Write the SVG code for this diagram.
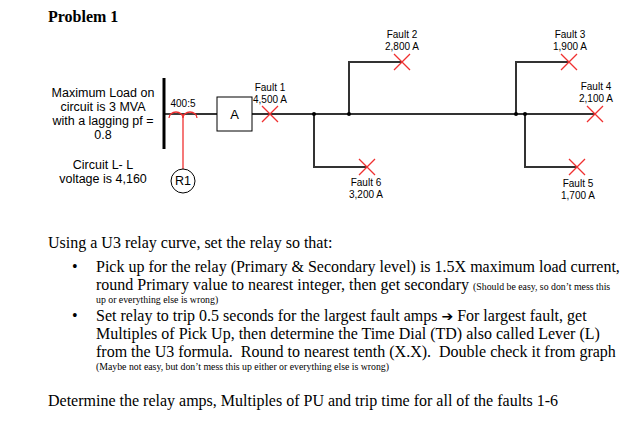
<svg xmlns="http://www.w3.org/2000/svg" width="641" height="439" viewBox="0 0 641 439">
<style>
.s{font-family:"Liberation Sans",Arial,sans-serif;font-size:10px;fill:#000;text-anchor:middle}
.l{font-family:"Liberation Sans",Arial,sans-serif;font-size:12.5px;fill:#000;text-anchor:middle}
.t{font-family:"Liberation Serif","Times New Roman",serif;font-size:16px;fill:#000;white-space:pre}
.sm{font-family:"Liberation Serif","Times New Roman",serif;font-size:9.8px;fill:#000}
.w{stroke:#333;stroke-width:2;fill:none}
.x{stroke:#f03030;stroke-width:1.3}
.d{fill:#000}
</style>
<rect width="641" height="439" fill="#fff"/>
<text x="48" y="22" style="font-family:'Liberation Serif',serif;font-size:16px;font-weight:bold">Problem 1</text>
<g id="notes">
<text class="l" x="103" y="97">Maximum Load on</text>
<text class="l" x="103" y="111">circuit is 3 MVA</text>
<text class="l" x="103" y="125">with a lagging pf =</text>
<text class="l" x="103" y="139">0.8</text>
<text class="l" x="103" y="169">Circuit L- L</text>
<text class="l" x="103" y="183">voltage is 4,160</text>
</g>
<g id="connectors">
<path class="w" d="M194 114H217M252 114H595"/>
<path class="w" d="M314 114V167H367M349 114V62H402M516 114V62H569M525 114V167H577"/>
<circle class="d" cx="314" cy="114" r="2"/><circle class="d" cx="349" cy="114" r="2"/>
<circle class="d" cx="516" cy="114" r="2"/><circle class="d" cx="525" cy="114" r="2"/>
<path d="M165 114H194" stroke="#000" stroke-width="1.5"/>
</g>
<g id="bus"><line x1="164" y1="78" x2="164" y2="149" stroke="#000" stroke-width="3"/></g>
<g id="ct">
<path d="M169 118a7 6 0 0 1 14 0a7 6 0 0 1 14 0" fill="none" stroke="#f03030" stroke-width="1.3"/>
<line x1="183" y1="114" x2="183" y2="169" stroke="#f03030" stroke-width="1.3"/>
<text class="s" x="183" y="107">400:5</text>
</g>
<g id="R1"><circle cx="183" cy="181" r="12" fill="#fff" stroke="#000" stroke-width="1"/><text class="l" x="183" y="185">R1</text></g>
<g id="A"><rect x="217" y="97" width="35" height="34" fill="#fff" stroke="#000" stroke-width="1"/><text class="l" x="234.5" y="119" style="font-size:13px">A</text></g>
<g id="f1"><path class="x" d="M262 106l16 16M278 106l-16 16"/><text class="s" x="270" y="91">Fault 1</text><text class="s" x="270" y="103">4,500 A</text></g>
<g id="f2"><path class="x" d="M394 54l16 16M410 54l-16 16"/><text class="s" x="402" y="38">Fault 2</text><text class="s" x="402" y="50">2,800 A</text></g>
<g id="f3"><path class="x" d="M561 54l16 16M577 54l-16 16"/><text class="s" x="570" y="38">Fault 3</text><text class="s" x="570" y="50">1,900 A</text></g>
<g id="f4"><path class="x" d="M587 106l16 16M603 106l-16 16"/><text class="s" x="596" y="90">Fault 4</text><text class="s" x="596" y="102">2,100 A</text></g>
<g id="f5"><path class="x" d="M569 159l16 16M585 159l-16 16"/><text class="s" x="578" y="187">Fault 5</text><text class="s" x="578" y="199">1,700 A</text></g>
<g id="f6"><path class="x" d="M359 159l16 16M375 159l-16 16"/><text class="s" x="366" y="186">Fault 6</text><text class="s" x="366" y="198">3,200 A</text></g>
<g id="text">
<text class="t" x="48" y="248">Using a U3 relay curve, set the relay so that:</text>
<text class="t" x="72" y="272">•</text>
<text class="t" x="96" y="272">Pick up for the relay (Primary &amp; Secondary level) is 1.5X maximum load current,</text>
<text class="t" x="96" y="290">round Primary value to nearest integer, then get secondary <tspan class="sm">(Should be easy, so don’t mess this</tspan></text>
<text class="sm" x="96" y="303">up or everything else is wrong)</text>
<text class="t" x="72" y="321">•</text>
<text class="t" x="96" y="321">Set relay to trip 0.5 seconds for the largest fault amps <tspan style="font-family:'DejaVu Sans',sans-serif;font-size:14px">➔</tspan> For largest fault, get</text>
<text class="t" x="96" y="339">Multiples of Pick Up, then determine the Time Dial (TD) also called Lever (L)</text>
<text class="t" x="96" y="357">from the U3 formula.  Round to nearest tenth (X.X).  Double check it from graph</text>
<text class="sm" x="96" y="370">(Maybe not easy, but don’t mess this up either or everything else is wrong)</text>
<text class="t" x="48" y="406">Determine the relay amps, Multiples of PU and trip time for all of the faults 1-6</text>
</g>
</svg>
